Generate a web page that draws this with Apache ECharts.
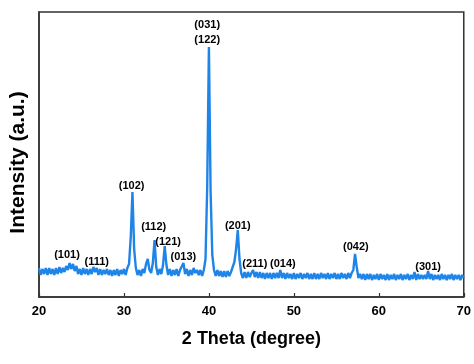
<!DOCTYPE html>
<html>
<head>
<meta charset="utf-8">
<script src="https://cdn.jsdelivr.net/npm/echarts@6/dist/echarts.min.js"></script>
<style>
  html, body { margin: 0; padding: 0; background: #fff; }
  #xrd { width: 474px; height: 364px; }
</style>
</head>
<body>
<div id="xrd"></div>
<script>
  // 2 theta scan: 20 -> 70 degree, one reading every 0.2 degree
  var thetaStart = 20;
  var thetaStep = 0.2;
  // intensity (a.u.), one row per degree
  var intensity = [
    29, 22, 28, 23, 29,   // 20
    22, 29, 23, 28, 22,   // 21
    29, 23, 30, 24, 29,   // 22
    25, 31, 27, 34, 28,   // 23
    33, 26, 31, 23, 28,   // 24
    22, 29, 23, 28, 22,   // 25
    28, 23, 30, 25, 29,   // 26
    22, 28, 22, 27, 23,   // 27
    28, 22, 27, 21, 27,   // 28
    22, 28, 21, 27, 23,   // 29
    28, 22, 29, 33, 60,   // 30
    105, 48, 29, 22, 27,  // 31
    21, 28, 24, 33, 38,   // 32
    27, 24, 34, 57, 30,   // 33
    22, 28, 23, 32, 51,   // 34
    32, 22, 28, 21, 27,   // 35
    22, 28, 21, 27, 29,   // 36
    34, 23, 28, 21, 27,   // 37
    22, 29, 24, 27, 22,   // 38
    27, 21, 27, 38, 110,  // 39
    250, 105, 42, 27, 21, // 40
    27, 21, 26, 20, 26,   // 41
    20, 26, 21, 25, 30,   // 42
    35, 48, 67, 38, 24,   // 43
    19, 25, 19, 25, 20,   // 44
    24, 27, 20, 25, 19,   // 45
    25, 19, 24, 18, 24,   // 46
    19, 24, 18, 24, 19,   // 47
    24, 19, 27, 19, 24,   // 48
    18, 24, 19, 23, 18,   // 49
    24, 18, 23, 19, 24,   // 50
    18, 23, 19, 24, 18,   // 51
    23, 18, 24, 18, 23,   // 52
    18, 24, 19, 23, 18,   // 53
    24, 18, 23, 19, 24,   // 54
    18, 23, 18, 24, 19,   // 55
    23, 18, 24, 19, 24,   // 56
    27, 43, 30, 19, 23,   // 57
    18, 23, 17, 23, 18,   // 58
    23, 17, 22, 18, 23,   // 59
    17, 23, 18, 22, 17,   // 60
    23, 17, 22, 18, 23,   // 61
    17, 22, 18, 23, 17,   // 62
    22, 18, 23, 17, 22,   // 63
    18, 25, 17, 23, 18,   // 64
    22, 18, 22, 18, 26,   // 65
    18, 23, 17, 22, 18,   // 66
    22, 17, 23, 18, 22,   // 67
    17, 22, 18, 23, 17,   // 68
    22, 18, 22, 17, 22,   // 69
    19                    // 70
  ];

  // (hkl) labels and where they sit
  var peakNames = ['(101)', '(111)', '(102)', '(112)', '(121)', '(013)', '(031)', '(122)',
                   '(201)', '(211)', '(014)', '(042)', '(301)'];
  var peakX = [23.3, 26.8, 30.9, 33.5, 35.2, 37.0, 39.8, 39.8, 43.4, 45.4, 48.7, 57.3, 65.8];
  var peakY = [42, 35, 111, 70, 55, 40, 272, 257, 71, 33, 33, 50, 30];

  var xTicks = [20, 30, 40, 50, 60, 70];

  var scan = intensity.map(function (v, i) {
    return [+(thetaStart + i * thetaStep).toFixed(1), v];
  });
  var tags = peakNames.map(function (n, i) {
    return { name: n, value: [peakX[i], peakY[i]] };
  });

  var font = 'Arial, "Liberation Sans", sans-serif';
  var chart = echarts.init(document.getElementById('xrd'));

  var option = {
    animation: false,
    grid: {
      left: 35, right: 10, top: 12, bottom: 67,
      show: true,
      borderColor: '#333',
      borderWidth: 1.5
    },
    xAxis: {
      type: 'value',
      min: xTicks[0],
      max: xTicks[xTicks.length - 1],
      interval: 10,
      name: '2 Theta (degree)',
      nameLocation: 'middle',
      nameGap: 33,
      nameTextStyle: { fontFamily: font, fontSize: 18, fontWeight: 'bold', color: '#000' },
      axisLine: { lineStyle: { color: '#333', width: 1.5 } },
      axisTick: { inside: true, length: 4, lineStyle: { color: '#333', width: 1.2 } },
      axisLabel: { margin: 8, fontFamily: font, fontSize: 13, fontWeight: 'bold', color: '#000' },
      splitLine: { show: false }
    },
    yAxis: {
      type: 'value',
      min: 0,
      max: 285,
      name: 'Intensity (a.u.)',
      nameLocation: 'middle',
      nameGap: 10,
      nameTextStyle: {
        fontFamily: font, fontSize: 21, fontWeight: 'bold', color: '#000',
        padding: [0, 16, 0, 0]
      },
      axisLine: { show: true, lineStyle: { color: '#333', width: 1.5 } },
      axisTick: { show: false },
      axisLabel: { show: false },
      splitLine: { show: false }
    },
    series: [
      {
        name: 'XRD',
        type: 'line',
        data: scan,
        showSymbol: false,
        lineStyle: { color: '#1f84e8', width: 2.4 },
        z: 2
      },
      {
        name: 'hkl',
        type: 'scatter',
        data: tags,
        symbolSize: 0,
        silent: true,
        itemStyle: { opacity: 1 },
        label: {
          show: true,
          position: 'inside',
          formatter: '{b}',
          fontFamily: font,
          fontSize: 11,
          fontWeight: 'bold',
          color: '#000',
          opacity: 1
        },
        z: 3
      }
    ]
  };

  chart.setOption(option);
</script>
</body>
</html>
